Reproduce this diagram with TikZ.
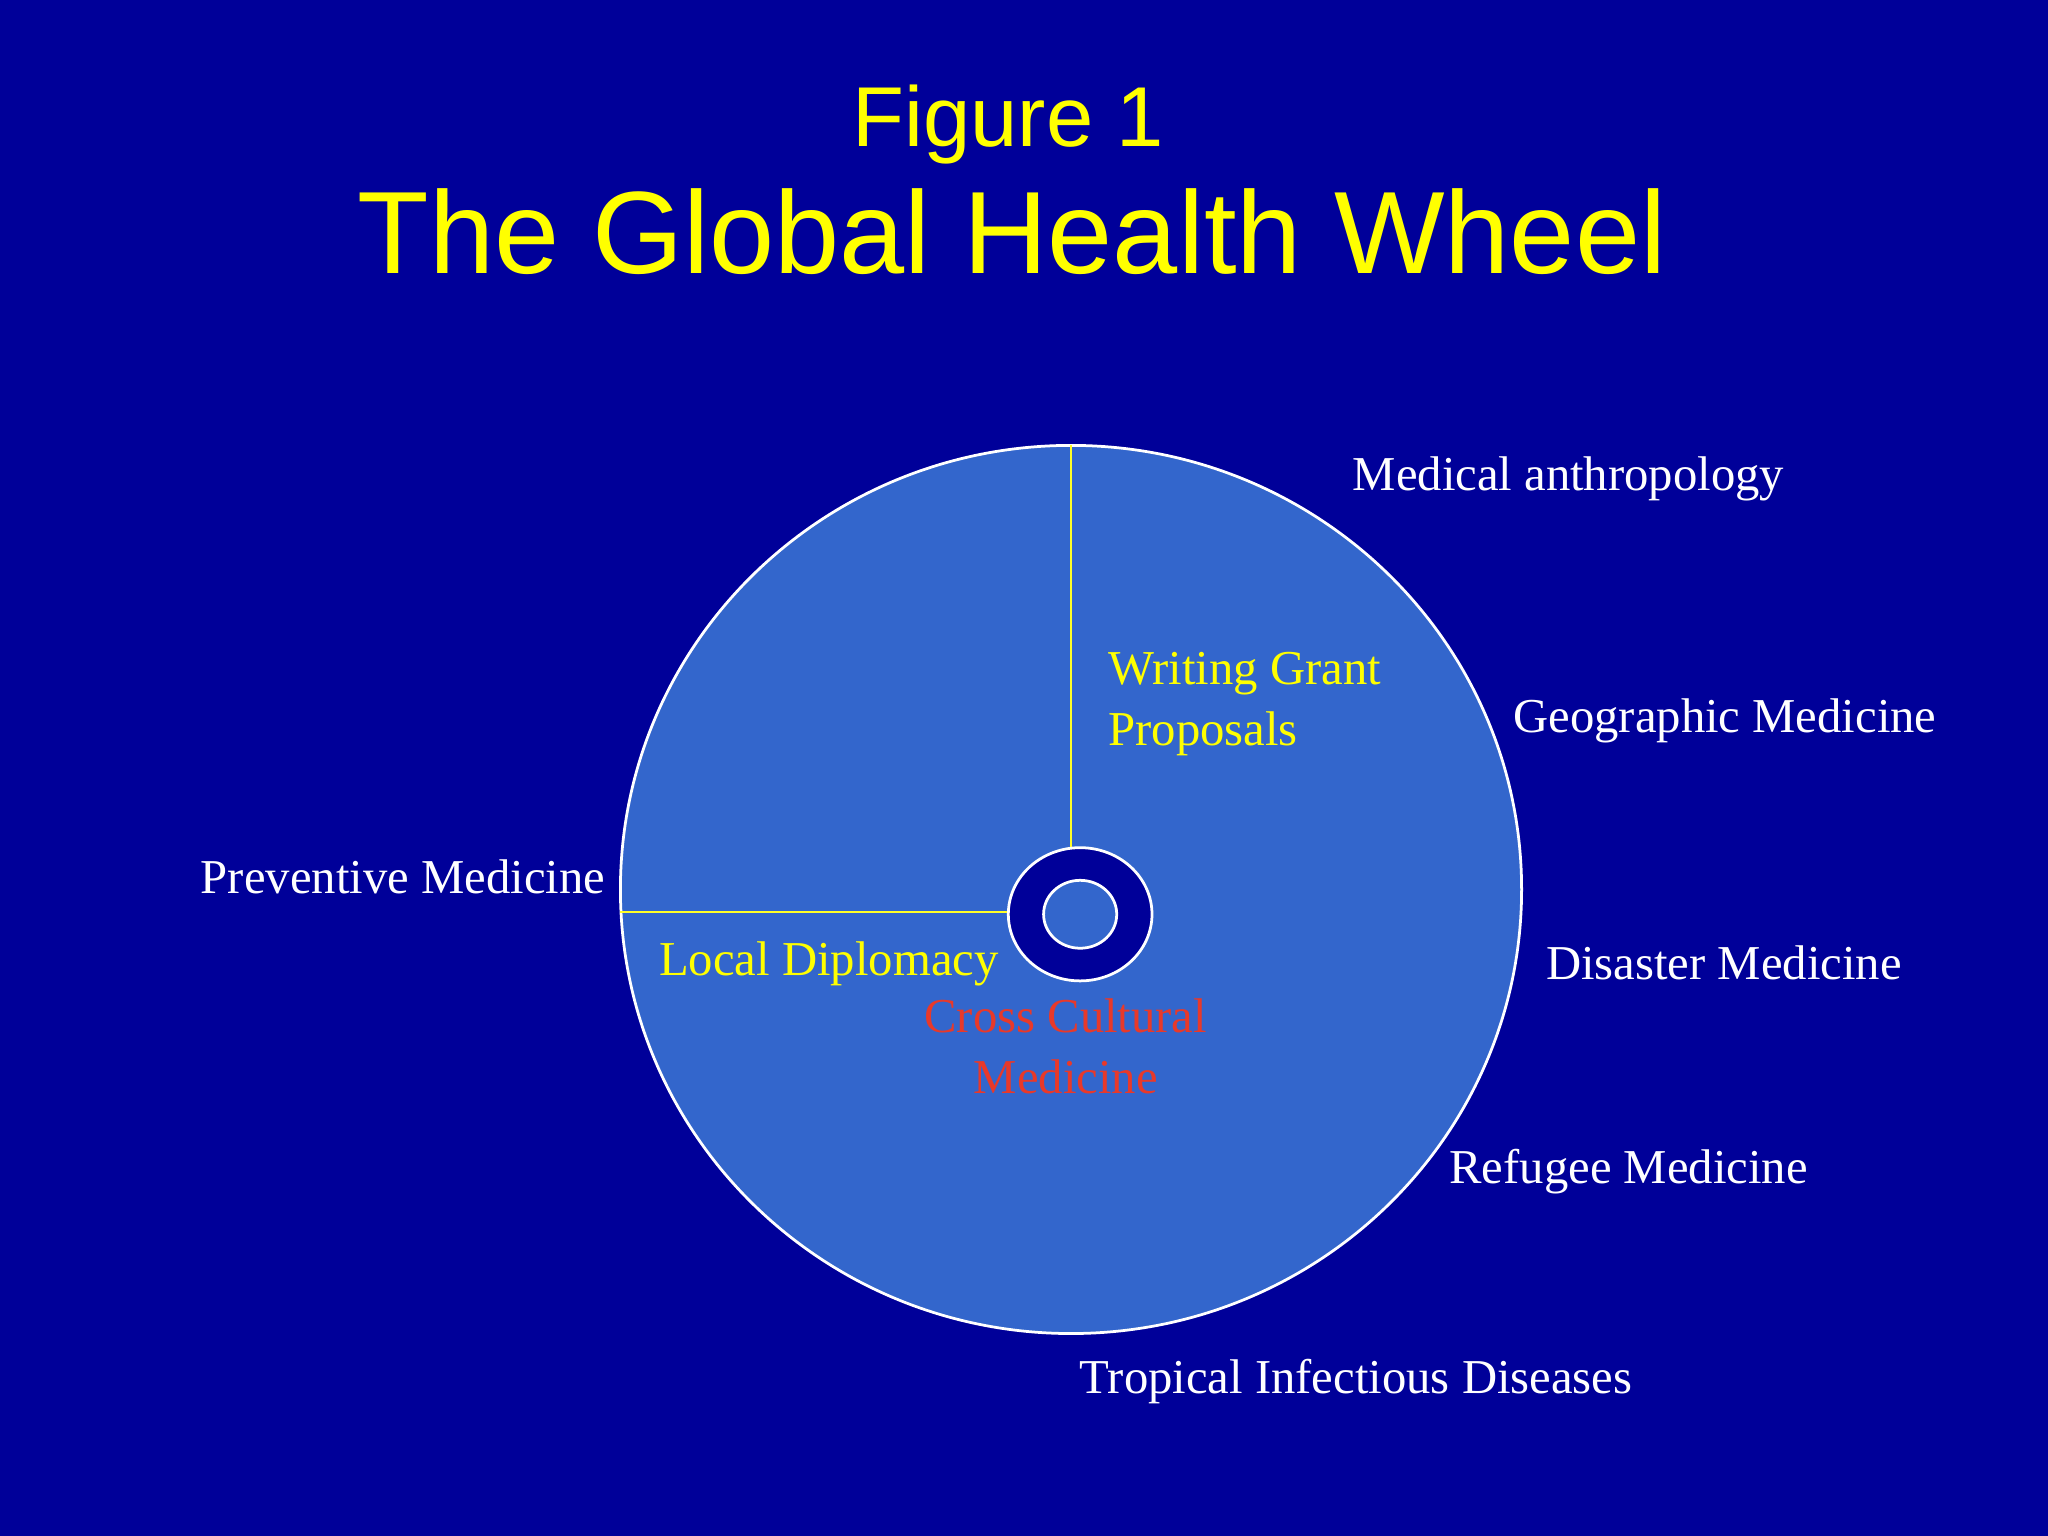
\documentclass[tikz,border=0pt]{standalone}
\usepackage{fontspec}
\setmainfont{Liberation Serif}
\newfontfamily\hdfont{Liberation Sans}
\definecolor{bg}{HTML}{000099}
\definecolor{wheel}{HTML}{3366CC}
\definecolor{ttl}{HTML}{FFFF00}
\definecolor{crs}{HTML}{E8392A}
\begin{document}
\begin{tikzpicture}[x=0.01cm,y=-0.01cm,
  lbl/.style={text=white,font=\fontsize{10.6}{13.4}\selectfont,inner sep=0pt},
  ylbl/.style={text=ttl,font=\fontsize{10.6}{13.4}\selectfont,inner sep=0pt,align=left},
  spoke/.style={draw=ttl!85!white,line width=0.5pt}]
\fill[bg] (0,0) rectangle (1568,1176);
\useasboundingbox (0,0) rectangle (1568,1176);
\node[text=ttl,font=\hdfont\fontsize{18.5}{20}\selectfont] (fig) at (772,95) {Figure 1};
\node[text=ttl,font=\hdfont\fontsize{25.5}{28}\selectfont] (title) at (775,177) {The Global Health Wheel};
\draw[white,fill=wheel,line width=0.6pt] (820,681) ellipse (345 and 340);
\coordinate (top) at (820,341);
\coordinate (left) at (475,698);
\coordinate (hub) at (820,650);
\coordinate (hubl) at (772,698);
\draw[spoke] (top) -- (hub);
\draw[spoke] (left) -- (hubl);
\draw[white,fill=bg,line width=0.6pt] (827,700) ellipse (55 and 51);
\draw[white,fill=wheel,line width=0.6pt] (827,700) ellipse (28 and 26);
\node[lbl,anchor=west] (ma) at (1035,367) {Medical anthropology};
\node[lbl,anchor=west] (gm) at (1158,552) {Geographic Medicine};
\node[lbl,anchor=west] (dm) at (1183,737) {Disaster Medicine};
\node[lbl,anchor=west] (rm) at (1109,897) {Refugee Medicine};
\node[lbl,anchor=west] (tid) at (826,1058) {Tropical Infectious Diseases};
\node[lbl,anchor=east] (pm) at (464,671) {Preventive Medicine};
\node[ylbl,anchor=west] (wg) at (848,539) {Writing Grant\\Proposals};
\node[ylbl,anchor=west] (ld) at (504,738) {Local Diplomacy};
\node[ylbl,text=crs,align=center] (cc) at (816,801) {Cross Cultural\\Medicine};
\end{tikzpicture}
\end{document}
